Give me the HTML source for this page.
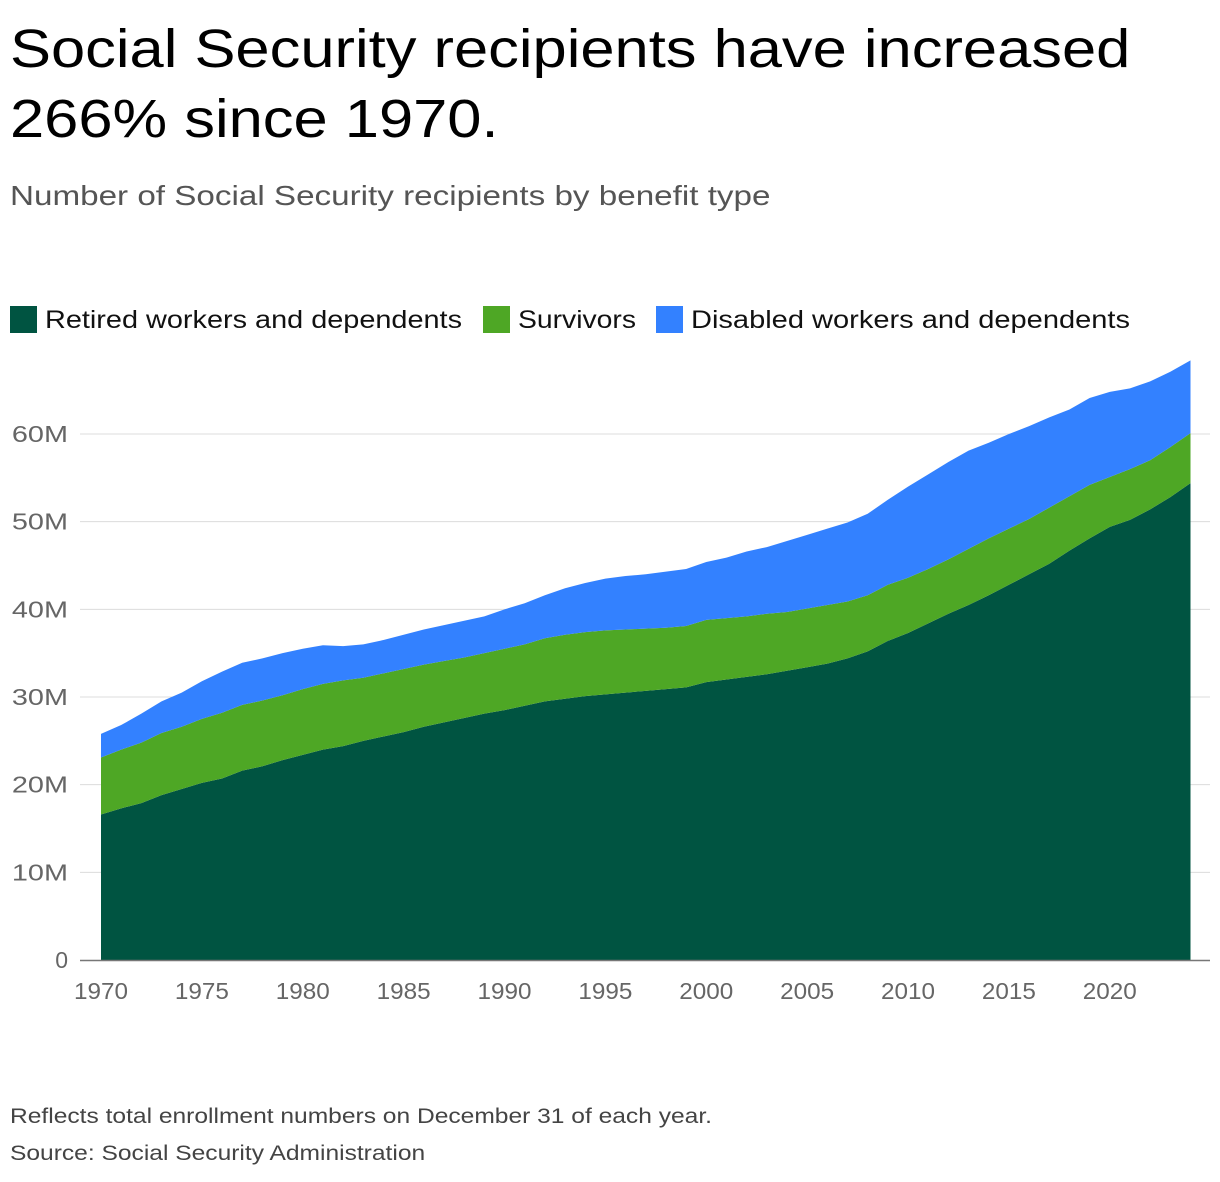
<!DOCTYPE html>
<html><head><meta charset="utf-8">
<style>
body{margin:0;background:#fff;width:1220px;height:1182px;overflow:hidden;font-family:"Liberation Sans",sans-serif;}
.t{position:absolute;left:10px;top:14px;font-size:54px;line-height:70px;color:#000;margin:0;font-weight:normal;transform:scaleX(1.138);transform-origin:0 0;white-space:nowrap}
.s{position:absolute;left:10px;top:180px;font-size:28px;color:#555;transform:scaleX(1.186);transform-origin:0 0;white-space:nowrap}
.f{position:absolute;left:10px;font-size:21px;color:#444;transform:scaleX(1.17);transform-origin:0 0;white-space:nowrap}
</style></head><body>
<h1 class="t">Social Security recipients have increased<br>266% since 1970.</h1>
<div class="s">Number of Social Security recipients by benefit type</div>
<svg id="c" width="1220" height="1182" style="position:absolute;left:0;top:0"></svg>
<div class="f" style="top:1105px">Reflects total enrollment numbers on December 31 of each year.</div>
<div class="f" style="top:1142px">Source: Social Security Administration</div>
<script>
const years=[];for(let y=1970;y<=2024;y++)years.push(y);
const retired=[16.6,17.3,17.9,18.8,19.5,20.2,20.7,21.6,22.1,22.8,23.4,24.0,24.4,25.0,25.5,26.0,26.6,27.1,27.6,28.1,28.5,29.0,29.5,29.8,30.1,30.3,30.5,30.7,30.9,31.1,31.7,32.0,32.3,32.6,33.0,33.4,33.8,34.4,35.2,36.4,37.3,38.4,39.5,40.5,41.6,42.8,44.0,45.2,46.7,48.1,49.4,50.2,51.4,52.8,54.4];
const survivors=[6.5,6.7,6.9,7.1,7.1,7.3,7.5,7.5,7.5,7.4,7.5,7.5,7.5,7.2,7.2,7.2,7.1,7.0,6.9,6.9,7.0,7.0,7.2,7.3,7.3,7.3,7.2,7.1,7.0,7.0,7.1,7.0,6.9,6.9,6.7,6.7,6.7,6.5,6.4,6.4,6.3,6.2,6.2,6.4,6.5,6.4,6.3,6.4,6.2,6.1,5.7,5.8,5.6,5.7,5.7];
const disabled=[2.7,2.8,3.3,3.6,3.9,4.3,4.7,4.8,4.8,4.8,4.6,4.4,3.9,3.8,3.8,3.9,4.0,4.1,4.2,4.2,4.5,4.7,4.9,5.3,5.6,5.9,6.1,6.2,6.4,6.5,6.6,6.9,7.4,7.6,8.1,8.4,8.7,9.0,9.3,9.7,10.4,10.8,11.1,11.2,10.9,10.8,10.6,10.3,9.9,9.9,9.7,9.2,9.0,8.6,8.3];
const yTicks=[0,10,20,30,40,50,60];
const yTickLabels=["0","10M","20M","30M","40M","50M","60M"];
const xTicks=[1970,1975,1980,1985,1990,1995,2000,2005,2010,2015,2020];

const NS="http://www.w3.org/2000/svg";
const svg=document.getElementById('c');
const x=v=>101+(v-1970)*(1190.5-101)/54;
const y=v=>960-v*(960-434)/60;
function mk(t,a){const e=document.createElementNS(NS,t);for(const k in a)e.setAttribute(k,a[k]);svg.appendChild(e);return e;}
yTicks.forEach((t,i)=>{
  if(t>0){const g=mk('line',{x1:80,x2:1210,y1:y(t),y2:y(t),stroke:'#dcdcdc','stroke-width':1});
  
  }
  const l=mk('text',{x:68,y:y(t)+8,'text-anchor':'end','font-size':23,fill:'#666','font-family':'Liberation Sans, sans-serif'});
  l.textContent=yTickLabels[i];
  if(yTickLabels[i].length>1){l.setAttribute('textLength',yTickLabels[i].length*18.7);l.setAttribute('lengthAdjust','spacingAndGlyphs');}
  
  
});
const series=[[retired,'#005441','area-retired'],[survivors,'#4ea725','area-survivors'],[disabled,'#3381ff','area-disabled']];
let base=years.map(()=>0);
series.forEach(([vals,col,name])=>{
  const top=base.map((b,i)=>b+vals[i]);
  let d='M'+years.map((yr,i)=>x(yr)+','+y(top[i])).join('L');
  for(let i=years.length-1;i>=0;i--)d+='L'+x(years[i])+','+y(base[i]);
  d+='Z';
  const p=mk('path',{d:d,fill:col});
  
  
  base=top;
});
const ax=mk('line',{x1:80,x2:1210,y1:960.5,y2:960.5,stroke:'#777','stroke-width':1.5});


xTicks.forEach(t=>{
  const l=mk('text',{x:x(t),y:999,'text-anchor':'middle','font-size':23,fill:'#666','font-family':'Liberation Sans, sans-serif',textLength:54,lengthAdjust:'spacingAndGlyphs'});
  l.textContent=t;
  
  
});
const leg=[['#005441','Retired workers and dependents',10,417],['#4ea725','Survivors',483,118],['#3381ff','Disabled workers and dependents',656,439]];
leg.forEach(([c,t,lx,w])=>{
  const r=mk('rect',{x:lx,y:306,width:27,height:27,fill:c});
  
  
  const tx=mk('text',{x:lx+35,y:328,'font-size':25,fill:'#111','font-family':'Liberation Sans, sans-serif',textLength:w,lengthAdjust:'spacingAndGlyphs'});
  tx.textContent=t;
  
  
});
</script>
</body></html>
